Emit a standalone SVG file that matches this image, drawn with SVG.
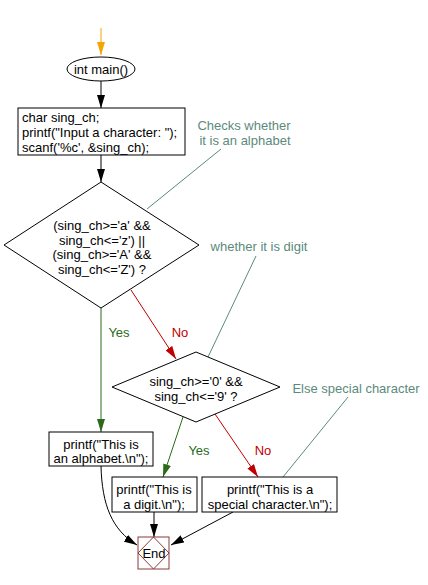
<svg xmlns="http://www.w3.org/2000/svg" width="428" height="585" viewBox="0 0 428 585">
<style>
text{font-family:"Liberation Sans",Arial,sans-serif;font-size:13px;fill:#000}
.c{text-anchor:middle}
.shape{fill:#fff;stroke:#000;stroke-width:1}
.note{fill:#5b8a7c}
.yes{fill:#2a6a1a}
.no{fill:#c00000}
.ln{fill:none;stroke:#000;stroke-width:1}
</style>
<defs>
<marker id="ab" viewBox="0 0 13 8" refX="13" refY="4" markerWidth="13" markerHeight="8" markerUnits="userSpaceOnUse" orient="auto"><path d="M0,0 L13,4 L0,8 z" fill="#000"/></marker>
<marker id="ao" viewBox="0 0 13 8" refX="13" refY="4" markerWidth="13" markerHeight="8" markerUnits="userSpaceOnUse" orient="auto"><path d="M0,0 L13,4 L0,8 z" fill="#f5a500"/></marker>
<marker id="ag" viewBox="0 0 13 8" refX="13" refY="4" markerWidth="13" markerHeight="8" markerUnits="userSpaceOnUse" orient="auto"><path d="M0,0 L13,4 L0,8 z" fill="#2a6a1a"/></marker>
<marker id="ar" viewBox="0 0 13 8" refX="13" refY="4" markerWidth="13" markerHeight="8" markerUnits="userSpaceOnUse" orient="auto"><path d="M0,0 L13,4 L0,8 z" fill="#c00000"/></marker>
</defs>
<rect width="428" height="585" fill="#fff"/>
<g id="connectors">
<line x1="101" y1="28" x2="101" y2="55" stroke="#f5a500" stroke-width="1" marker-end="url(#ao)"/>
<line x1="101" y1="81" x2="101" y2="108" class="ln" marker-end="url(#ab)"/>
<line x1="101" y1="155" x2="101" y2="182" class="ln" marker-end="url(#ab)"/>
<line x1="101" y1="308" x2="101" y2="432" stroke="#2a6a1a" marker-end="url(#ag)"/>
<line x1="131" y1="290" x2="176" y2="359" stroke="#c00000" marker-end="url(#ar)"/>
<line x1="183" y1="417" x2="163" y2="477" stroke="#2a6a1a" marker-end="url(#ag)"/>
<line x1="215" y1="414" x2="258" y2="477" stroke="#c00000" marker-end="url(#ar)"/>
<path d="M101,466 C102,505 112,530 137,545" class="ln" marker-end="url(#ab)"/>
<line x1="154" y1="512" x2="154" y2="537" class="ln" marker-end="url(#ab)"/>
<line x1="233" y1="512" x2="171" y2="545" class="ln" marker-end="url(#ab)"/>
<line x1="221" y1="149" x2="147" y2="209" stroke="#5b8a7c"/>
<line x1="256" y1="256" x2="208" y2="357" stroke="#5b8a7c"/>
<line x1="348" y1="397" x2="283" y2="477" stroke="#5b8a7c"/>
</g>
<g id="start">
<ellipse cx="101" cy="69" rx="34" ry="12" class="shape"/>
<text x="101" y="74" class="c">int main()</text>
</g>
<g id="input">
<rect x="18" y="108" width="167" height="47" class="shape"/>
<text x="22" y="122">char sing_ch;</text>
<text x="22" y="137">printf("Input a character: ");</text>
<text x="22" y="152">scanf('%c', &amp;sing_ch);</text>
</g>
<g id="note1">
<text x="244" y="130" class="c note">Checks whether</text>
<text x="245" y="145" class="c note">it is an alphabet</text>
</g>
<g id="decision1">
<polygon points="101,182 199,245 101,308 4,245" class="shape"/>
<text x="102" y="230" class="c">(sing_ch&gt;='a' &amp;&amp;</text>
<text x="102" y="245" class="c">sing_ch&lt;='z') ||</text>
<text x="102" y="259" class="c">(sing_ch&gt;='A' &amp;&amp;</text>
<text x="102" y="274" class="c">sing_ch&lt;='Z') ?</text>
</g>
<g id="note2">
<text x="259" y="251" class="c note">whether it is digit</text>
</g>
<g id="label-yes1"><text x="119" y="337" class="c yes">Yes</text></g>
<g id="label-no1"><text x="180" y="337" class="c no">No</text></g>
<g id="decision2">
<polygon points="196,352 280,387 196,422 112,387" class="shape"/>
<text x="196" y="386" class="c">sing_ch&gt;='0' &amp;&amp;</text>
<text x="196" y="401" class="c">sing_ch&lt;='9' ?</text>
</g>
<g id="note3">
<text x="356" y="393" class="c note">Else special character</text>
</g>
<g id="alphabet">
<rect x="49" y="432" width="104" height="34" class="shape"/>
<text x="101" y="449" class="c">printf("This is</text>
<text x="101" y="463" class="c">an alphabet.\n");</text>
</g>
<g id="label-yes2"><text x="199" y="455" class="c yes">Yes</text></g>
<g id="label-no2"><text x="263" y="455" class="c no">No</text></g>
<g id="digit">
<rect x="112" y="477" width="85" height="35" class="shape"/>
<text x="154" y="494" class="c">printf("This is</text>
<text x="154" y="509" class="c">a digit.\n");</text>
</g>
<g id="special">
<rect x="202" y="477" width="135" height="35" class="shape"/>
<text x="270" y="494" class="c">printf("This is a</text>
<text x="270" y="509" class="c">special character.\n");</text>
</g>
<g id="end">
<rect x="138" y="537" width="31" height="32" fill="#fff" stroke="#8b3a3a"/>
<polygon points="153.5,537 169,553 153.5,569 138,553" fill="none" stroke="#8b3a3a"/>
<text x="154" y="558" class="c">End</text>
</g>
</svg>
